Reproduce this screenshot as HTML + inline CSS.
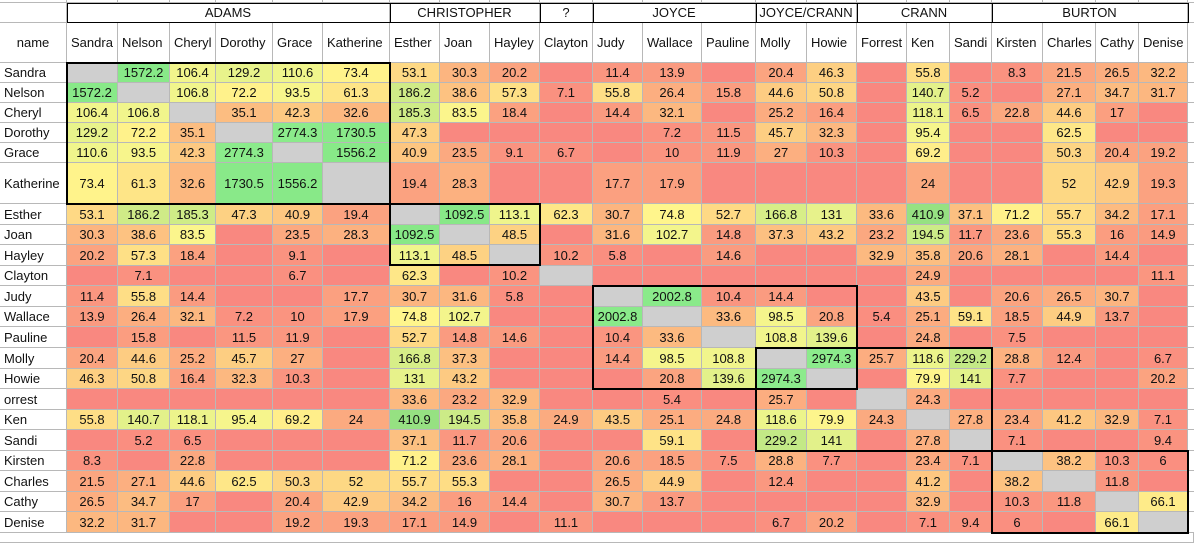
<!DOCTYPE html>
<html><head><meta charset="utf-8"><style>
body{margin:0;width:1194px;height:535px;overflow:hidden;background:#fff;font-family:"Liberation Sans",sans-serif;font-size:13px;position:relative}
.c{position:absolute;box-sizing:border-box;border-right:1px solid #b8b8b8;border-bottom:1px solid #b8b8b8;display:flex;align-items:center;justify-content:center;color:#111;white-space:nowrap;overflow:hidden}
.n{justify-content:flex-start;padding-left:4px}
.b{position:absolute;background:#000}
</style></head><body>
<div id="g"></div>
<script>
var X=[0,67,118,170,216,273,323,390,440,490,540,593,643,702,756,807,857,907,950,992,1043,1096,1139,1188];
var names=["Sandra","Nelson","Cheryl","Dorothy","Grace","Katherine","Esther","Joan","Hayley","Clayton","Judy","Wallace","Pauline","Molly","Howie","Forrest","Ken","Sandi","Kirsten","Charles","Cathy","Denise"];
var rn=names.slice();rn[15]="orrest";
var Y=[63,83,103,123,143,163,204];for(var i=1;i<=16;i++)Y.push(Math.round(204+i*20.5625));
var D=`G,1572.2,106.4,129.2,110.6,73.4,53.1,30.3,20.2,_,11.4,13.9,_,20.4,46.3,_,55.8,_,8.3,21.5,26.5,32.2
1572.2,G,106.8,72.2,93.5,61.3,186.2,38.6,57.3,7.1,55.8,26.4,15.8,44.6,50.8,_,140.7,5.2,_,27.1,34.7,31.7
106.4,106.8,G,35.1,42.3,32.6,185.3,83.5,18.4,_,14.4,32.1,_,25.2,16.4,_,118.1,6.5,22.8,44.6,17,_
129.2,72.2,35.1,G,2774.3,1730.5,47.3,_,_,_,_,7.2,11.5,45.7,32.3,_,95.4,_,_,62.5,_,_
110.6,93.5,42.3,2774.3,G,1556.2,40.9,23.5,9.1,6.7,_,10,11.9,27,10.3,_,69.2,_,_,50.3,20.4,19.2
73.4,61.3,32.6,1730.5,1556.2,G,19.4,28.3,_,_,17.7,17.9,_,_,_,_,24,_,_,52,42.9,19.3
53.1,186.2,185.3,47.3,40.9,19.4,G,1092.5,113.1,62.3,30.7,74.8,52.7,166.8,131,33.6,410.9,37.1,71.2,55.7,34.2,17.1
30.3,38.6,83.5,_,23.5,28.3,1092.5,G,48.5,_,31.6,102.7,14.8,37.3,43.2,23.2,194.5,11.7,23.6,55.3,16,14.9
20.2,57.3,18.4,_,9.1,_,113.1,48.5,G,10.2,5.8,_,14.6,_,_,32.9,35.8,20.6,28.1,_,14.4,_
_,7.1,_,_,6.7,_,62.3,_,10.2,G,_,_,_,_,_,_,24.9,_,_,_,_,11.1
11.4,55.8,14.4,_,_,17.7,30.7,31.6,5.8,_,G,2002.8,10.4,14.4,_,_,43.5,_,20.6,26.5,30.7,_
13.9,26.4,32.1,7.2,10,17.9,74.8,102.7,_,_,2002.8,G,33.6,98.5,20.8,5.4,25.1,59.1,18.5,44.9,13.7,_
_,15.8,_,11.5,11.9,_,52.7,14.8,14.6,_,10.4,33.6,G,108.8,139.6,_,24.8,_,7.5,_,_,_
20.4,44.6,25.2,45.7,27,_,166.8,37.3,_,_,14.4,98.5,108.8,G,2974.3,25.7,118.6,229.2,28.8,12.4,_,6.7
46.3,50.8,16.4,32.3,10.3,_,131,43.2,_,_,_,20.8,139.6,2974.3,G,_,79.9,141,7.7,_,_,20.2
_,_,_,_,_,_,33.6,23.2,32.9,_,_,5.4,_,25.7,_,G,24.3,_,_,_,_,_
55.8,140.7,118.1,95.4,69.2,24,410.9,194.5,35.8,24.9,43.5,25.1,24.8,118.6,79.9,24.3,G,27.8,23.4,41.2,32.9,7.1
_,5.2,6.5,_,_,_,37.1,11.7,20.6,_,_,59.1,_,229.2,141,_,27.8,G,7.1,_,_,9.4
8.3,_,22.8,_,_,_,71.2,23.6,28.1,_,20.6,18.5,7.5,28.8,7.7,_,23.4,7.1,G,38.2,10.3,6
21.5,27.1,44.6,62.5,50.3,52,55.7,55.3,_,_,26.5,44.9,_,12.4,_,_,41.2,_,38.2,G,11.8,_
26.5,34.7,17,_,20.4,42.9,34.2,16,14.4,_,30.7,13.7,_,_,_,_,32.9,_,10.3,11.8,G,66.1
32.2,31.7,_,_,19.2,19.3,17.1,14.9,_,11.1,_,_,_,6.7,20.2,_,7.1,9.4,6,_,66.1,G`.split("\n").map(function(r){return r.split(",")});
var A=[[0,[249,136,128]],[10,[250,148,128]],[20,[251,163,128]],[30,[252,180,128]],[45,[253,205,130]],[60,[254,228,135]],[75,[255,245,140]],[110,[240,245,140]],[190,[205,235,135]],[410,[150,225,130]],[1000,[135,232,135]],[3000,[140,235,140]]];
function col(v){if(v=="G")return"#cfcfcf";if(v=="_")v=0;v=+v;for(var i=1;i<A.length;i++){if(v<=A[i][0]){var t=(v-A[i-1][0])/(A[i][0]-A[i-1][0]);var a=A[i-1][1],b=A[i][1];return"rgb("+a.map(function(x,k){return Math.round(x+(b[k]-x)*t)}).join(",")+")"}}return"rgb(140,235,140)"}
var h="";
function cell(x,y,w,hh,bg,txt,cls){h+='<div class="c '+(cls||"")+'" style="left:'+x+'px;top:'+y+'px;width:'+w+'px;height:'+hh+'px;background:'+bg+'">'+txt+'</div>';}
for(var j=0;j<X.length-1;j++)cell(X[j],-20,X[j+1]-X[j],23,"#fff","");
cell(1188,-20,40,23,"#fff","");
var grp=[["",0,67],["ADAMS",67,390],["CHRISTOPHER",390,540],["?",540,593],["JOYCE",593,756],["JOYCE/CRANN",756,857],["CRANN",857,992],["BURTON",992,1188]];
grp.forEach(function(g){cell(g[1],3,g[2]-g[1],20,"#fff",g[0]);});
cell(0,23,67,40,"#fff","name");
for(var j=0;j<22;j++)cell(X[j+1],23,X[j+2]-X[j+1],40,"#fff",names[j],"n");
for(var i=0;i<22;i++){var y=Y[i],hh=Y[i+1]-Y[i];cell(0,y,67,hh,"#fff",rn[i],"n");
for(var j=0;j<22;j++){var v=D[i][j];cell(X[j+1],y,X[j+2]-X[j+1],hh,col(v),(v=="G"||v=="_")?"":v);}
cell(1188,y,40,hh,"#fff","");}
cell(1188,3,40,20,"#fff","");cell(1188,23,40,40,"#fff","");
cell(0,Y[22],1194,10,"#fff","");
function bl(x,y,w,hh){h+='<div class="b" style="left:'+x+'px;top:'+y+'px;width:'+w+'px;height:'+hh+'px"></div>';}
function box(x1,y1,x2,y2){bl(x1-1,y1-1,x2-x1+2,2);bl(x1-1,y2-1,x2-x1+2,2);bl(x1-1,y1-1,2,y2-y1+2);bl(x2-1,y1-1,2,y2-y1+2);}
grp.slice(1).forEach(function(g){bl(g[1],3,1,20);bl(g[2],3,1,20);});
bl(67,3,1121,1);bl(67,22,1121,1);
box(67,63,390,204);box(390,204,540,265);box(593,286,857,389);box(756,348,992,451);box(992,451,1188,533);
bl(593,388,163,2);
document.getElementById("g").innerHTML=h;
</script>
</body></html>
